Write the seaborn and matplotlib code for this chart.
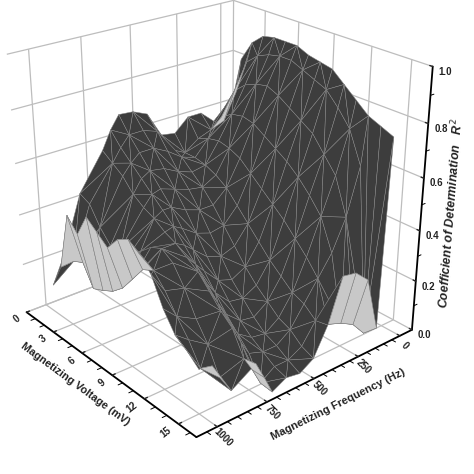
import numpy as np
import matplotlib
matplotlib.use('Agg')
import matplotlib.pyplot as plt
from matplotlib.transforms import Affine2D
import seaborn as sns
from mpl_toolkits.mplot3d import proj3d
from mpl_toolkits.mplot3d.art3d import Poly3DCollection

voltage = [1, 2, 3, 4, 5, 6, 7, 8, 9, 10, 11, 12, 13, 14, 15]
frequency = [0, 30, 100, 175, 250, 325, 400, 475, 550, 625, 670, 715, 840, 935, 1000]
r2_v01 = [.59, .58, .56, .61, .61, .56, .57, .67, .695, .70, .65, .58, .44, .22, .11]
r2_v02 = [.81, .68, .58, .56, .54, .50, .53, .62, .64, .64, .60, .55, .42, .215, .21]
r2_v03 = [.89, .82, .72, .63, .56, .50, .52, .56, .59, .59, .56, .52, .35, .235, .44]
r2_v04 = [.93, .86, .76, .66, .57, .49, .48, .50, .53, .54, .52, .47, .30, .154, .39]
r2_v05 = [.94, .88, .78, .67, .56, .47, .44, .45, .47, .49, .48, .44, .31, .173, .48]
r2_v06 = [.94, .89, .79, .66, .54, .44, .39, .39, .41, .44, .44, .42, .32, .196, .445]
r2_v07 = [.94, .89, .77, .63, .50, .39, .33, .32, .34, .38, .40, .39, .35, .235, .41]
r2_v08 = [.92, .87, .74, .60, .46, .34, .27, .25, .27, .32, .35, .37, .39, .296, .465]
r2_v09 = [.91, .85, .71, .57, .42, .29, .21, .18, .20, .26, .30, .34, .41, .358, .49]
r2_v10 = [.90, .83, .68, .53, .38, .24, .16, .13, .14, .20, .25, .31, .38, .38, .46]
r2_v11 = [.86, .78, .62, .48, .33, .20, .12, .08, .09, .14, .20, .26, .31, .33, .41]
r2_v12 = [.82, .72, .56, .42, .28, .16, .08, .04, .05, .09, .15, .21, .22, .26, .31]
r2_v13 = [.78, .60, .42, .30, .22, .14, .06, .02, .02, .04, .10, .17, .15, .20, .24]
r2_v14 = [.76, -.05, .01, .04, .06, .10, .02, -.01, -.01, -.05, .02, .08, .05, .12, .21]
r2_v15 = [.74, .00, .22, .27, .28, .11, .00, -.035, -.025, -.055, .02, .09, .03, .16, .17]
rows = [r2_v01, r2_v02, r2_v03, r2_v04, r2_v05, r2_v06, r2_v07, r2_v08,
        r2_v09, r2_v10, r2_v11, r2_v12, r2_v13, r2_v14, r2_v15]
v_ticks = [0, 3, 6, 9, 12, 15]
f_ticks = [0, 250, 500, 750, 1000]
z_ticks = [0.0, 0.2, 0.4, 0.6, 0.8, 1.0]
v_minor = [1, 2, 4, 5, 7, 8, 10, 11, 13, 14, 16]
f_minor = [50, 100, 150, 200, 300, 350, 400, 450, 550, 600, 650, 700, 800, 850, 900, 950, 1050]
z_minor = [0.1, 0.3, 0.5, 0.7, 0.9]

sns.set_theme(style='white')
plt.rcParams['font.family'] = ['Liberation Sans', 'DejaVu Sans']
plt.rcParams['mathtext.fontset'] = 'custom'
plt.rcParams['mathtext.bfit'] = 'Liberation Sans:italic:bold'
fig = plt.figure(figsize=(4.74, 4.74), dpi=100)
W = 483 / 474
ax = fig.add_axes([-31.2 / 474, 28.87 / 474, W, W], projection='3d')
ax.set_proj_type('persp', focal_length=0.46977)
ax.view_init(elev=25.248, azim=-39.879)
ax.set_box_aspect((0.9972, 1, 0.9992))
ax.set_xlim(0, 16.5)
ax.set_ylim(1100, -75)
ax.set_zlim(0, 1)
ax.computed_zorder = False

V, F = np.meshgrid(np.array(voltage, float), np.array(frequency, float), indexing='ij')
Z = np.array(rows, float)

def areas(zz):
    M = ax.get_proj()
    x, y, _ = proj3d.proj_transform(V.ravel(), F.ravel(), zz.ravel(), M)
    x = np.asarray(x).reshape(V.shape)
    y = np.asarray(y).reshape(V.shape)
    d1x = x[1:, 1:] - x[:-1, :-1]
    d1y = y[1:, 1:] - y[:-1, :-1]
    d2x = x[:-1, 1:] - x[1:, :-1]
    d2y = y[:-1, 1:] - y[1:, :-1]
    return d1x * d2y - d2x * d1y

top_sign = np.sign(areas(np.zeros_like(Z)).mean())
underside = np.sign(areas(Z)) != top_sign
underside[0, :12] = False  # the far row folds behind the sheet and stays hidden

mesh = '#858585'
nv, nf = Z.shape
tris = []
for i in range(nv - 1):
    for j in range(nf - 1):
        a, b, c, d = i * nf + j, i * nf + j + 1, (i + 1) * nf + j, (i + 1) * nf + j + 1
        if (i + j) % 2:
            tris += [[a, b, c], [b, d, c]]
        else:
            tris += [[a, b, d], [a, d, c]]
surf = ax.plot_trisurf(V.ravel(), F.ravel(), Z.ravel(), triangles=tris, color='#3d3d3d', shade=False,
                       edgecolor=mesh, linewidth=0.35, zorder=2)
faces = []
for i, j in zip(*np.nonzero(underside)):
    idx = [(i, j), (i + 1, j), (i + 1, j + 1), (i, j + 1)]
    faces.append([(V[p], F[p], Z[p]) for p in idx])
under = Poly3DCollection(faces, facecolor='#c8c8c8', edgecolor=mesh, linewidth=0.4, zorder=3)
ax.add_collection3d(under)

ax.set_xticks(v_ticks)
ax.set_yticks(f_ticks)
ax.set_zticks(z_ticks)
ax.set_zticklabels(['%.1f' % t for t in z_ticks])
for a in (ax.xaxis, ax.yaxis, ax.zaxis):
    a.set_pane_color((1, 1, 1, 0))
    a.pane.set_edgecolor('#c4c4c4')
    a.pane.set_linewidth(0.8)
    a.line.set_color('black')
    a.line.set_linewidth(1.3)
    a._axinfo['grid'].update(color='#bdbdbd', linewidth=0.9, linestyle='-')
    a._axinfo['tick'].update(inward_factor=0.0, outward_factor=0.16)
    a._axinfo['tick']['linewidth'] = {True: 1.0, False: 0.6}
    a._axinfo['tick']['color'] = 'black'
for t in ax.get_xticklabels():
    t.set(rotation=38, fontsize=7, fontweight='bold', color='#222222', ha='right', va='center')
for t in ax.get_yticklabels():
    t.set(rotation=-45, fontsize=7, fontweight='bold', color='#222222', ha='center', va='center')
for t in ax.get_zticklabels():
    t.set(fontsize=7, fontweight='bold', color='#222222', ha='left', va='top')
ax.tick_params(axis='x', pad=-4)
ax.tick_params(axis='y', pad=-3)
ax.tick_params(axis='z', pad=-5.5)

ax.autoscale(False)
ax.set_xlim(0, 16.5)
ax.set_ylim(1100, -75)
ax.set_zlim(0, 1)
for v in v_minor:
    ax.plot([v, v], [1100, 1122], [0, 0], color='black', lw=0.7, zorder=4)
for f in f_minor:
    ax.plot([16.5, 16.8], [f, f], [0, 0], color='black', lw=0.7, zorder=4)
for z in z_minor:
    ax.plot([16.5, 16.5], [-75, -95], [z, z], color='black', lw=0.7, zorder=4)

def shift_label(label, dx, dy):
    base_draw = label.draw
    def draw(renderer):
        label._transform = ax.transData + Affine2D().translate(dx, dy)
        base_draw(renderer)
    label.draw = draw

xl = ax.set_xlabel('Magnetizing Voltage (mV)', fontsize=7.8, fontweight='bold', color='#222222', labelpad=-3)
yl = ax.set_ylabel('Magnetizing Frequency (Hz)', fontsize=8, fontweight='bold', color='#222222', labelpad=-3)
zl = ax.set_zlabel('Coefficient of Determination   $\\mathbfit{R}^{\\,2}$', fontsize=8.8, fontweight='bold',
                   fontstyle='italic', color='#222222', labelpad=-3)
shift_label(xl, -6, 20)
shift_label(yl, 7, 13)
shift_label(zl, -13, -7)
fig.savefig('out.png', dpi=100)
